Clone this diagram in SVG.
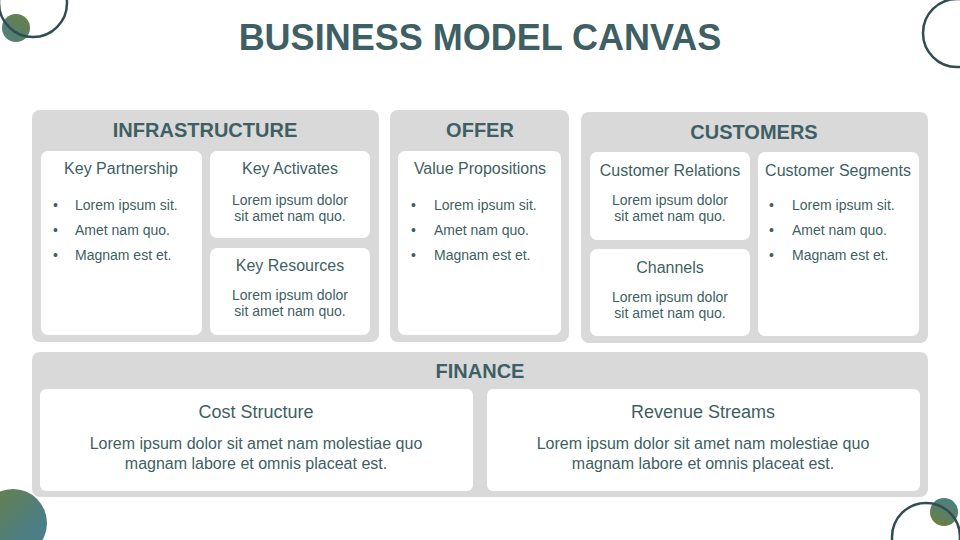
<svg xmlns="http://www.w3.org/2000/svg" width="960" height="540" viewBox="0 0 960 540">
<defs>
<linearGradient id="gTL" x1="1" y1="0" x2="0" y2="1"><stop offset="0" stop-color="#6b8040"/><stop offset="1" stop-color="#4b7e86"/></linearGradient>
<linearGradient id="gBL" x1="0" y1="0" x2="1" y2="1"><stop offset="0" stop-color="#6b8040"/><stop offset="0.7" stop-color="#4b7e86"/></linearGradient>
<linearGradient id="gBR" x1="0.7" y1="0" x2="0.2" y2="1"><stop offset="0" stop-color="#4b7e86"/><stop offset="1" stop-color="#6b8040"/></linearGradient>
<style>
text{font-family:"Liberation Sans",Arial,sans-serif;fill:#3e5f63}
.title{font-size:36px;font-weight:bold;text-anchor:middle}
.ph{font-size:20px;font-weight:bold;text-anchor:middle}
.sub{font-size:16px;text-anchor:middle}
.fsub{font-size:18px;text-anchor:middle}
.body{font-size:14px;text-anchor:middle}
.fbody{font-size:16px;text-anchor:middle}
.li{font-size:14px}
.panel{fill:#d9d9d9}
.card{fill:#ffffff}
.ring{fill:none;stroke:#2f4d53;stroke-width:2.5}
</style>
</defs>
<rect width="960" height="540" fill="#ffffff"/>

<g id="decor">
<circle cx="16" cy="28" r="14" fill="url(#gTL)"/>
<circle class="ring" cx="33" cy="3" r="34"/>
<circle class="ring" cx="957" cy="33" r="34"/>
<circle cx="13" cy="523" r="34" fill="url(#gBL)"/>
<circle cx="944" cy="512" r="14" fill="url(#gBR)"/>
<circle class="ring" cx="926" cy="537" r="34"/>
</g>

<text class="title" x="480" y="50">BUSINESS MODEL CANVAS</text>

<g id="infrastructure">
<rect class="panel" x="32" y="110" width="347" height="232" rx="8"/>
<text class="ph" x="205" y="137">INFRASTRUCTURE</text>
</g>
<g id="key-partnership">
<rect class="card" x="41" y="151" width="161" height="184" rx="7"/>
<text class="sub" x="121" y="174">Key Partnership</text>
<text class="li" x="53" y="210">•</text><text class="li" x="75" y="210">Lorem ipsum sit.</text>
<text class="li" x="53" y="235">•</text><text class="li" x="75" y="235">Amet nam quo.</text>
<text class="li" x="53" y="260">•</text><text class="li" x="75" y="260">Magnam est et.</text>
</g>
<g id="key-activates">
<rect class="card" x="210" y="151" width="160" height="87" rx="7"/>
<text class="sub" x="290" y="174">Key Activates</text>
<text class="body" x="290" y="205">Lorem ipsum dolor</text>
<text class="body" x="290" y="221">sit amet nam quo.</text>
</g>
<g id="key-resources">
<rect class="card" x="210" y="248" width="160" height="87" rx="7"/>
<text class="sub" x="290" y="271">Key Resources</text>
<text class="body" x="290" y="300">Lorem ipsum dolor</text>
<text class="body" x="290" y="316">sit amet nam quo.</text>
</g>

<g id="offer">
<rect class="panel" x="390" y="110" width="179" height="232" rx="8"/>
<text class="ph" x="480" y="137">OFFER</text>
</g>
<g id="value-propositions">
<rect class="card" x="398" y="151" width="163" height="184" rx="7"/>
<text class="sub" x="480" y="174">Value Propositions</text>
<text class="li" x="411" y="210">•</text><text class="li" x="434" y="210">Lorem ipsum sit.</text>
<text class="li" x="411" y="235">•</text><text class="li" x="434" y="235">Amet nam quo.</text>
<text class="li" x="411" y="260">•</text><text class="li" x="434" y="260">Magnam est et.</text>
</g>

<g id="customers">
<rect class="panel" x="581" y="112" width="347" height="231" rx="8"/>
<text class="ph" x="754" y="139">CUSTOMERS</text>
</g>
<g id="customer-relations">
<rect class="card" x="590" y="152" width="160" height="88" rx="7"/>
<text class="sub" x="670" y="176">Customer Relations</text>
<text class="body" x="670" y="205">Lorem ipsum dolor</text>
<text class="body" x="670" y="221">sit amet nam quo.</text>
</g>
<g id="channels">
<rect class="card" x="590" y="249" width="160" height="87" rx="7"/>
<text class="sub" x="670" y="273">Channels</text>
<text class="body" x="670" y="302">Lorem ipsum dolor</text>
<text class="body" x="670" y="318">sit amet nam quo.</text>
</g>
<g id="customer-segments">
<rect class="card" x="758" y="152" width="161" height="184" rx="7"/>
<text class="sub" x="838" y="176">Customer Segments</text>
<text class="li" x="769" y="210">•</text><text class="li" x="792" y="210">Lorem ipsum sit.</text>
<text class="li" x="769" y="235">•</text><text class="li" x="792" y="235">Amet nam quo.</text>
<text class="li" x="769" y="260">•</text><text class="li" x="792" y="260">Magnam est et.</text>
</g>

<g id="finance">
<rect class="panel" x="32" y="352" width="896" height="145" rx="8"/>
<text class="ph" x="480" y="378">FINANCE</text>
</g>
<g id="cost-structure">
<rect class="card" x="40" y="389" width="433" height="102" rx="6"/>
<text class="fsub" x="256" y="418">Cost Structure</text>
<text class="fbody" x="256" y="449">Lorem ipsum dolor sit amet nam molestiae quo</text>
<text class="fbody" x="256" y="469">magnam labore et omnis placeat est.</text>
</g>
<g id="revenue-streams">
<rect class="card" x="487" y="389" width="433" height="102" rx="6"/>
<text class="fsub" x="703" y="418">Revenue Streams</text>
<text class="fbody" x="703" y="449">Lorem ipsum dolor sit amet nam molestiae quo</text>
<text class="fbody" x="703" y="469">magnam labore et omnis placeat est.</text>
</g>

<g id="connectors"></g>
</svg>
